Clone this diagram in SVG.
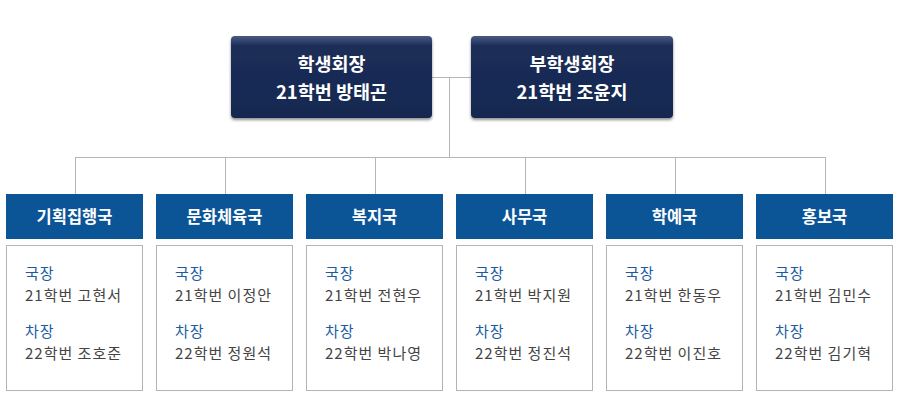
<svg xmlns="http://www.w3.org/2000/svg" width="900" height="420" viewBox="0 0 900 420">
<defs>
<linearGradient id="navy" x1="0" y1="0" x2="0" y2="1">
<stop offset="0" stop-color="#4a5a80"/>
<stop offset="0.12" stop-color="#1c2e58"/>
<stop offset="1" stop-color="#142850"/>
</linearGradient>
<filter id="sh" x="-10%" y="-10%" width="120%" height="130%">
<feGaussianBlur in="SourceAlpha" stdDeviation="1.5"/>
<feOffset dy="2" result="b"/>
<feComponentTransfer><feFuncA type="linear" slope="0.45"/></feComponentTransfer>
<feMerge><feMergeNode/><feMergeNode in="SourceGraphic"/></feMerge>
</filter>
</defs>
<style>
text{font-family:"Malgun Gothic","Noto Sans CJK KR",sans-serif}
.top{fill:url(#navy)}
.tt{fill:#fff;font-size:18.5px;font-weight:bold;text-anchor:middle}
.hd{fill:#0b5597}
.ht{fill:#fff;font-size:16.5px;font-weight:bold;text-anchor:middle}
.bx{fill:#fff;stroke:#b4b4b4;stroke-width:1}
.rl{fill:#1a5c9f;font-size:15px;letter-spacing:1px}
.nm{fill:#444;font-size:15px;letter-spacing:1px}
.ln{stroke:#b5b5b5;stroke-width:1;fill:none}
</style>
<rect width="900" height="420" fill="#fff"/>
<g id="connectors">
<path class="ln" d="M432 77.5H471M449.5 77.5V157.5M75 157.5H825.5M75.5 157V194M225.5 157V194M375.5 157V194M525.5 157V194M675.5 157V194M825.5 157V194"/>
</g>
<g id="president">
<rect class="top" x="231" y="36" width="201" height="82" rx="4" filter="url(#sh)"/>
<text class="tt" x="331.5" y="71">학생회장</text>
<text class="tt" x="331.5" y="98.5">21학번 방태곤</text>
</g>
<g id="vice-president">
<rect class="top" x="471" y="36" width="202" height="82" rx="4" filter="url(#sh)"/>
<text class="tt" x="572" y="71">부학생회장</text>
<text class="tt" x="572" y="98.5">21학번 조윤지</text>
</g>
<g id="dept1">
<rect class="hd" x="6" y="194" width="137" height="45"/>
<text class="ht" x="74.5" y="222.5">기획집행국</text>
<rect class="bx" x="6.5" y="245.5" width="136" height="145"/>
<text class="rl" x="25" y="279">국장</text>
<text class="nm" x="25" y="301">21학번 고현서</text>
<text class="rl" x="25" y="337">차장</text>
<text class="nm" x="25" y="359">22학번 조호준</text>
</g>
<g id="dept2">
<rect class="hd" x="156" y="194" width="137" height="45"/>
<text class="ht" x="224.5" y="222.5">문화체육국</text>
<rect class="bx" x="156.5" y="245.5" width="136" height="145"/>
<text class="rl" x="175" y="279">국장</text>
<text class="nm" x="175" y="301">21학번 이정안</text>
<text class="rl" x="175" y="337">차장</text>
<text class="nm" x="175" y="359">22학번 정원석</text>
</g>
<g id="dept3">
<rect class="hd" x="306" y="194" width="137" height="45"/>
<text class="ht" x="374.5" y="222.5">복지국</text>
<rect class="bx" x="306.5" y="245.5" width="136" height="145"/>
<text class="rl" x="325" y="279">국장</text>
<text class="nm" x="325" y="301">21학번 전현우</text>
<text class="rl" x="325" y="337">차장</text>
<text class="nm" x="325" y="359">22학번 박나영</text>
</g>
<g id="dept4">
<rect class="hd" x="456" y="194" width="137" height="45"/>
<text class="ht" x="524.5" y="222.5">사무국</text>
<rect class="bx" x="456.5" y="245.5" width="136" height="145"/>
<text class="rl" x="475" y="279">국장</text>
<text class="nm" x="475" y="301">21학번 박지원</text>
<text class="rl" x="475" y="337">차장</text>
<text class="nm" x="475" y="359">22학번 정진석</text>
</g>
<g id="dept5">
<rect class="hd" x="606" y="194" width="137" height="45"/>
<text class="ht" x="674.5" y="222.5">학예국</text>
<rect class="bx" x="606.5" y="245.5" width="136" height="145"/>
<text class="rl" x="625" y="279">국장</text>
<text class="nm" x="625" y="301">21학번 한동우</text>
<text class="rl" x="625" y="337">차장</text>
<text class="nm" x="625" y="359">22학번 이진호</text>
</g>
<g id="dept6">
<rect class="hd" x="756" y="194" width="137" height="45"/>
<text class="ht" x="824.5" y="222.5">홍보국</text>
<rect class="bx" x="756.5" y="245.5" width="136" height="145"/>
<text class="rl" x="775" y="279">국장</text>
<text class="nm" x="775" y="301">21학번 김민수</text>
<text class="rl" x="775" y="337">차장</text>
<text class="nm" x="775" y="359">22학번 김기혁</text>
</g>
</svg>
